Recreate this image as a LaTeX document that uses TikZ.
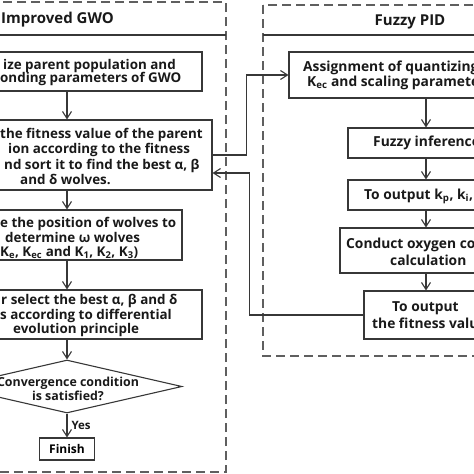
\documentclass[tikz,border=0pt]{standalone}
\usepackage{fontspec}
\setmainfont{Open Sans}
\usetikzlibrary{arrows.meta,shapes.geometric,positioning}
\definecolor{boxLine}  {RGB}{55, 55, 55}
\definecolor{frameDash}{RGB}{95, 95, 95}
\definecolor{txtDark}  {RGB}{25, 25, 25}

\begin{document}
\begin{tikzpicture}[x=1pt,y=-1pt,
    box/.style={draw=boxLine,line width=1.1pt,inner sep=0pt},
    flow/.style={draw=boxLine,line width=1.1pt,-{Straight Barb[length=7pt,width=9pt]}},
    frame/.style={draw=frameDash,line width=1.8pt,dash pattern=on 9pt off 5pt},
    txt/.style={font=\bfseries\fontsize{13.4}{14.8}\selectfont,text=txtDark,
                align=left,anchor=west,inner sep=0pt},
    pidtxt/.style={txt,font=\bfseries\fontsize{13.8}{16}\selectfont}]

  \useasboundingbox (0,0) rectangle (474,474);
  \clip (0,0) rectangle (474,474);

  % dashed frames and their titles
  \draw[frame] (-20,2) rectangle (226,472);
  \draw[frame] (263,5) rectangle (500,356);
  \draw[boxLine,line width=1.1pt] (-20,35) -- (226,35);
  \draw[boxLine,line width=1.1pt] (263,35) -- (500,35);
  \node[txt,font=\bfseries\fontsize{15}{18}\selectfont] (gwoTitle) at (1,20) {Improved GWO};
  \node[txt,font=\bfseries\fontsize{15}{18}\selectfont,anchor=center] (pidTitle) at (410,22) {Fuzzy PID};

  % improved GWO column
  \node[box,minimum width=270pt,minimum height=39pt] (init)   at (67,71.5)  {};
  \node[box,minimum width=290pt,minimum height=70pt] (eval)   at (67,155)   {};
  \node[box,minimum width=230pt,minimum height=50pt] (update) at (67,235)   {};
  \node[box,minimum width=270pt,minimum height=49pt] (select) at (67,314.5) {};
  \node[box,shape=diamond,aspect=4.3,minimum width=230pt,minimum height=53pt] (conv) at (67,386.5) {};
  \node[box,minimum width=55pt,minimum height=22pt,font=\bfseries\fontsize{12}{14.5}\selectfont] (finish) at (67,449) {Finish};

  \node[txt,font=\bfseries\fontsize{13.4}{13.5}\selectfont] (initTxt) at (0,72.5)
    {\hspace*{3pt}ize parent population and\\onding parameters of GWO};
  \node[txt,font=\bfseries\fontsize{13.4}{15.6}\selectfont] (evalTxt) at (0,156.5)
    {the fitness value of the parent\\\hspace*{8pt}ion according to the fitness\\
     \hspace*{4pt}nd sort it to find the best α, β\\\hspace*{20pt}and δ wolves.};
  \node[txt] (updateTxt) at (0,238)
    {e the position of wolves to\\\hspace*{5pt}determine ω wolves\\
     K\textsubscript{e}, K\textsubscript{ec} and K\textsubscript{1}, K\textsubscript{2}, K\textsubscript{3})};
  \node[txt] (selectTxt) at (0,315.5)
    {\hspace*{1pt}r select the best α, β and δ\\s according to differential\\\hspace*{13pt}evolution principle};
  \node[txt,font=\bfseries\fontsize{12.4}{13.5}\selectfont,align=center,anchor=center] (convTxt) at (68,389)
    {Convergence condition\\is satisfied?};

  \draw[flow] (init) -- (eval);
  \draw[flow] (eval) -- (update);
  \draw[flow] (update) -- (select);
  \draw[flow] (select) -- (conv);
  \draw[flow] (conv) -- node[right,font=\bfseries\fontsize{11.5}{13}\selectfont,text=txtDark,inner sep=4pt] {Yes} (finish);

  % fuzzy PID column
  \node[box,minimum width=274pt,minimum height=46pt] (assign) at (426,75)    {};
  \node[box,minimum width=156pt,minimum height=30pt] (infer)  at (426,143)   {};
  \node[box,minimum width=156pt,minimum height=30pt] (kout)   at (426,195)   {};
  \node[box,minimum width=172pt,minimum height=45pt] (oxy)    at (426,250.5) {};
  \node[box,minimum width=124pt,minimum height=48pt] (fit)    at (426,315)   {};

  \node[pidtxt,font=\bfseries\fontsize{13.8}{15}\selectfont] (assignTxt) at (303,75.5)
    {Assignment of quantizing\\\hspace*{4pt}K\textsubscript{ec} and scaling paramete};
  \node[pidtxt] (inferTxt) at (373,143) {Fuzzy inference};
  \node[pidtxt] (koutTxt)  at (364,196) {To output k\textsubscript{p}, k\textsubscript{i},};
  \node[pidtxt,font=\bfseries\fontsize{13.8}{17}\selectfont] (oxyTxt) at (346,251.5)
    {Conduct oxygen co\\\hspace*{44pt}calculation};
  \node[pidtxt,font=\bfseries\fontsize{13.8}{17}\selectfont] (fitTxt) at (372,315.5)
    {\hspace*{20pt}To output\\the fitness value};

  \draw[flow] (assign) -- (infer);
  \draw[flow] (infer) -- (kout);
  \draw[flow] (kout) -- (oxy);
  \draw[flow] (oxy) -- (fit);

  % feedback between the two parts
  \draw[flow] (eval.east) -- ++(34,0) |- (assign.west);
  \draw[flow] (fit.west) -| ([xshift=37pt,yshift=-18pt]eval.east) -- ([yshift=-18pt]eval.east);

\end{tikzpicture}
\end{document}
